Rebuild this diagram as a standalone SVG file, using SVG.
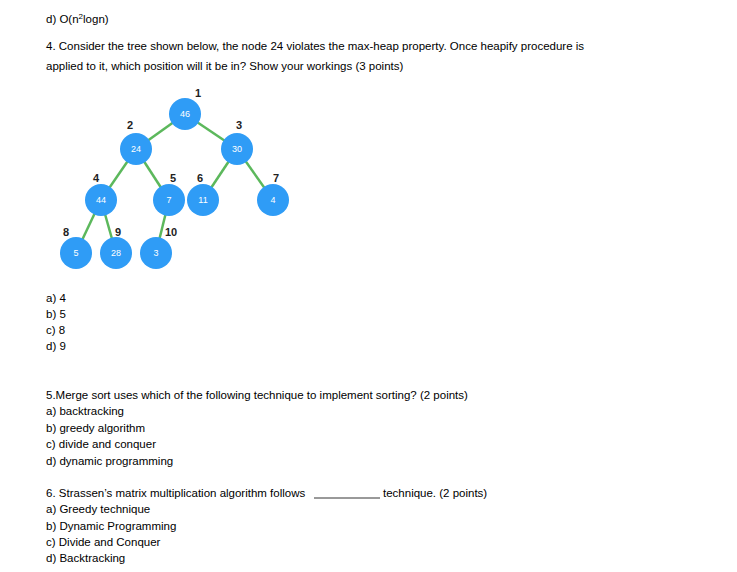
<svg xmlns="http://www.w3.org/2000/svg" width="737" height="572" viewBox="0 0 737 572">
<style>
.t{font-family:"Liberation Sans",Arial,sans-serif;font-size:11.5px;fill:#000}
.n circle{fill:#2f9cf6}
.n text{font-family:"Liberation Sans",Arial,sans-serif;font-size:9px;fill:#fff;text-anchor:middle}
.l{font-family:"Liberation Sans",Arial,sans-serif;font-size:11px;font-weight:bold;fill:#222;text-anchor:middle}
.e line{stroke:#5cb85c;stroke-width:2.5}
</style>
<rect width="737" height="572" fill="#fff"/>
<text class="t" x="46" y="23">d) O(n<tspan font-size="8" dy="-4">2</tspan><tspan dy="4">logn)</tspan></text>
<text class="t" x="46" y="50">4. Consider the tree shown below, the node 24 violates the max-heap property. Once heapify procedure is</text>
<text class="t" x="46" y="70">applied to it, which position will it be in? Show your workings (3 points)</text>
<g class="e">
<line x1="185" y1="114" x2="136" y2="149"/><line x1="185" y1="114" x2="237" y2="149"/>
<line x1="136" y1="149" x2="101" y2="200"/><line x1="136" y1="149" x2="169" y2="200"/>
<line x1="237" y1="149" x2="203" y2="200"/><line x1="237" y1="149" x2="273" y2="200"/>
<line x1="101" y1="200" x2="76" y2="253"/><line x1="101" y1="200" x2="116" y2="253"/>
<line x1="169" y1="200" x2="156" y2="253"/>
</g>
<g id="n46" class="n"><circle cx="185" cy="114" r="16"/><text x="185" y="117">46</text></g>
<g id="n24" class="n"><circle cx="136" cy="149" r="16"/><text x="136" y="152">24</text></g>
<g id="n30" class="n"><circle cx="237" cy="149" r="16"/><text x="237" y="152">30</text></g>
<g id="n44" class="n"><circle cx="101" cy="200" r="16"/><text x="101" y="203">44</text></g>
<g id="n7" class="n"><circle cx="169" cy="200" r="16"/><text x="169" y="203">7</text></g>
<g id="n11" class="n"><circle cx="203" cy="200" r="16"/><text x="203" y="203">11</text></g>
<g id="n4" class="n"><circle cx="273" cy="200" r="16"/><text x="273" y="203">4</text></g>
<g id="n5" class="n"><circle cx="76" cy="253" r="16"/><text x="76" y="256">5</text></g>
<g id="n28" class="n"><circle cx="116" cy="253" r="16"/><text x="116" y="256">28</text></g>
<g id="n3" class="n"><circle cx="156" cy="253" r="16"/><text x="156" y="256">3</text></g>
<g id="labels">
<text class="l" x="198" y="97">1</text><text class="l" x="130" y="129">2</text><text class="l" x="239" y="129">3</text>
<text class="l" x="96" y="182">4</text><text class="l" x="173" y="182">5</text><text class="l" x="200" y="182">6</text><text class="l" x="276" y="182">7</text>
<text class="l" x="66" y="236">8</text><text class="l" x="118" y="236">9</text><text class="l" x="171" y="236">10</text>
</g>
<text class="t" x="46" y="302">a) 4</text>
<text class="t" x="46" y="318">b) 5</text>
<text class="t" x="46" y="334">c) 8</text>
<text class="t" x="46" y="350">d) 9</text>
<text class="t" x="46" y="399">5.Merge sort uses which of the following technique to implement sorting? (2 points)</text>
<text class="t" x="46" y="415">a) backtracking</text>
<text class="t" x="46" y="432">b) greedy algorithm</text>
<text class="t" x="46" y="448">c) divide and conquer</text>
<text class="t" x="46" y="465">d) dynamic programming</text>
<text class="t" x="46" y="497">6. Strassen’s matrix multiplication algorithm follows</text>
<line x1="314" y1="498" x2="380" y2="498" stroke="#000" stroke-width="0.8"/>
<text class="t" x="383" y="497">technique. (2 points)</text>
<text class="t" x="46" y="513">a) Greedy technique</text>
<text class="t" x="46" y="530">b) Dynamic Programming</text>
<text class="t" x="46" y="546">c) Divide and Conquer</text>
<text class="t" x="46" y="562">d) Backtracking</text>
</svg>
